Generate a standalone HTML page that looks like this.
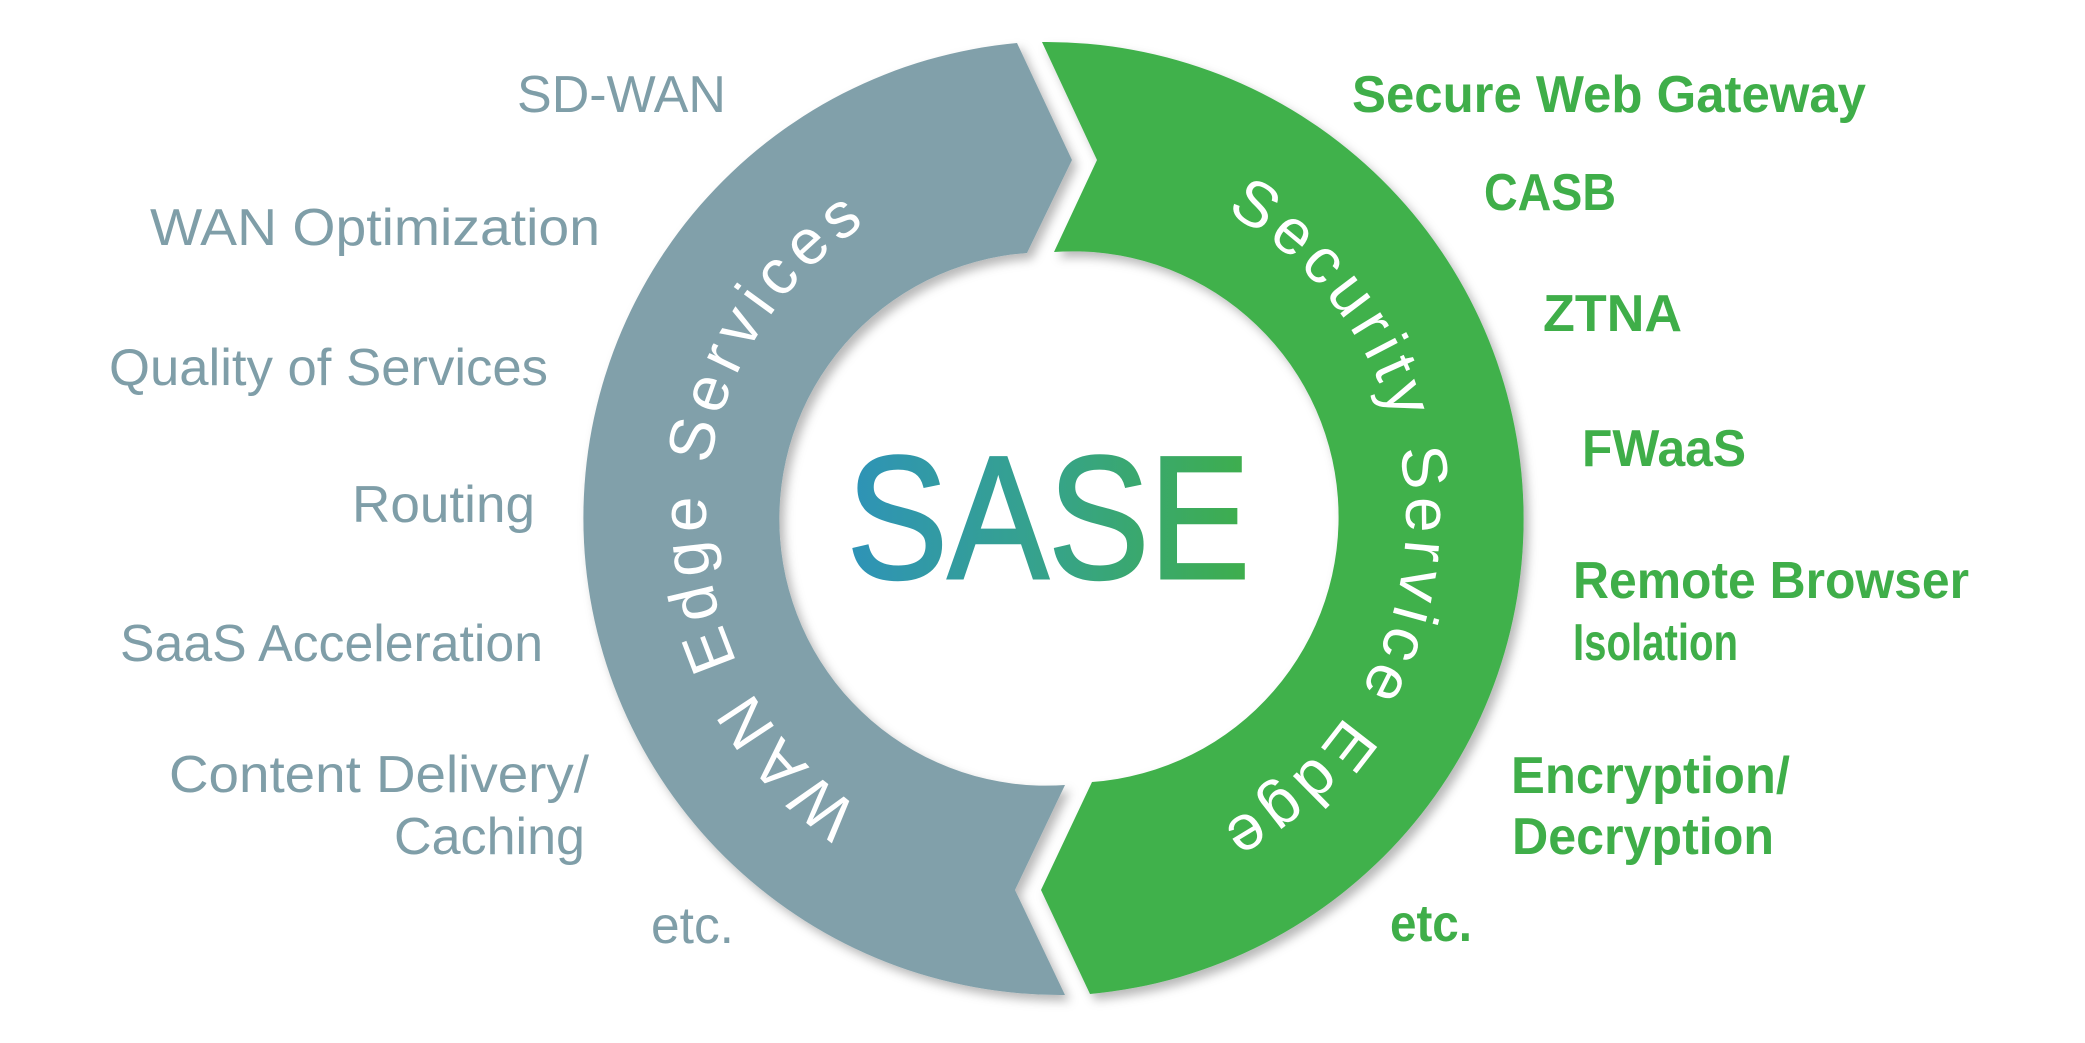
<!DOCTYPE html>
<html><head><meta charset="utf-8"><style>
html,body{margin:0;padding:0;background:#fff;}
svg{display:block;}
</style></head><body>
<svg width="2085" height="1043" viewBox="0 0 2085 1043" xmlns="http://www.w3.org/2000/svg">
<defs>
<filter id="sh" x="-10%" y="-10%" width="120%" height="120%">
<feDropShadow dx="5" dy="6" stdDeviation="5" flood-color="#000" flood-opacity="0.28"/>
</filter>
<linearGradient id="sg" x1="0" y1="0" x2="1" y2="0">
<stop offset="0" stop-color="#2e93b8"/>
<stop offset="0.5" stop-color="#36a38a"/>
<stop offset="1" stop-color="#3eae4c"/>
</linearGradient>
<path id="lp" d="M860.3,808.2 A350,350 0 0 1 870.5,221.2" fill="none"/>
<path id="rp" d="M1225.7,211.8 A350,350 0 0 1 1214.9,829.9" fill="none"/>
</defs>

<path filter="url(#sh)" fill="#81a0aa" d="M1017,43 A477,477 0 0 0 1065,995 L1015,890 L1065,785 A265,265 0 0 1 1027,253 L1072,160 Z"/>
<path filter="url(#sh)" fill="#3fb14b" d="M1042,42 A477,477 0 0 1 1090,994 L1041,890 L1092,782 A265,265 0 0 0 1054,252 L1097,160 Z"/>

<g font-family="Liberation Sans, sans-serif" fill="#fff" font-size="64">
<text><textPath href="#lp" textLength="690" lengthAdjust="spacing">WAN Edge Services</textPath></text>
<text><textPath href="#rp" textLength="750" lengthAdjust="spacing">Security Service Edge</textPath></text>
</g>

<text x="847" y="578" font-family="Liberation Sans, sans-serif" font-size="175" fill="url(#sg)" stroke="url(#sg)" stroke-width="3" textLength="403" lengthAdjust="spacingAndGlyphs">SASE</text>

<g font-family="Liberation Sans, sans-serif" font-size="52" fill="#7f9ea8">
<text x="517" y="112" textLength="209" lengthAdjust="spacingAndGlyphs">SD-WAN</text>
<text x="150" y="245" textLength="450" lengthAdjust="spacingAndGlyphs">WAN Optimization</text>
<text x="109" y="385" textLength="439" lengthAdjust="spacingAndGlyphs">Quality of Services</text>
<text x="352" y="522" textLength="183" lengthAdjust="spacingAndGlyphs">Routing</text>
<text x="120" y="661" textLength="423" lengthAdjust="spacingAndGlyphs">SaaS Acceleration</text>
<text x="169" y="792" textLength="420" lengthAdjust="spacingAndGlyphs">Content Delivery/</text>
<text x="394" y="854" textLength="191" lengthAdjust="spacingAndGlyphs">Caching</text>
<text x="651" y="943" textLength="83" lengthAdjust="spacingAndGlyphs">etc.</text>
</g>

<g font-family="Liberation Sans, sans-serif" font-size="52" font-weight="bold" fill="#3fae49">
<text x="1352" y="112" textLength="514" lengthAdjust="spacingAndGlyphs">Secure Web Gateway</text>
<text x="1484" y="210" textLength="132" lengthAdjust="spacingAndGlyphs">CASB</text>
<text x="1543" y="331" textLength="139" lengthAdjust="spacingAndGlyphs">ZTNA</text>
<text x="1582" y="466" textLength="164" lengthAdjust="spacingAndGlyphs">FWaaS</text>
<text x="1573" y="598" textLength="396" lengthAdjust="spacingAndGlyphs">Remote Browser</text>
<text x="1573" y="660" textLength="165" lengthAdjust="spacingAndGlyphs">Isolation</text>
<text x="1511" y="793" textLength="279" lengthAdjust="spacingAndGlyphs">Encryption/</text>
<text x="1512" y="854" textLength="262" lengthAdjust="spacingAndGlyphs">Decryption</text>
<text x="1390" y="941" textLength="82" lengthAdjust="spacingAndGlyphs">etc.</text>
</g>
</svg>
</body></html>
